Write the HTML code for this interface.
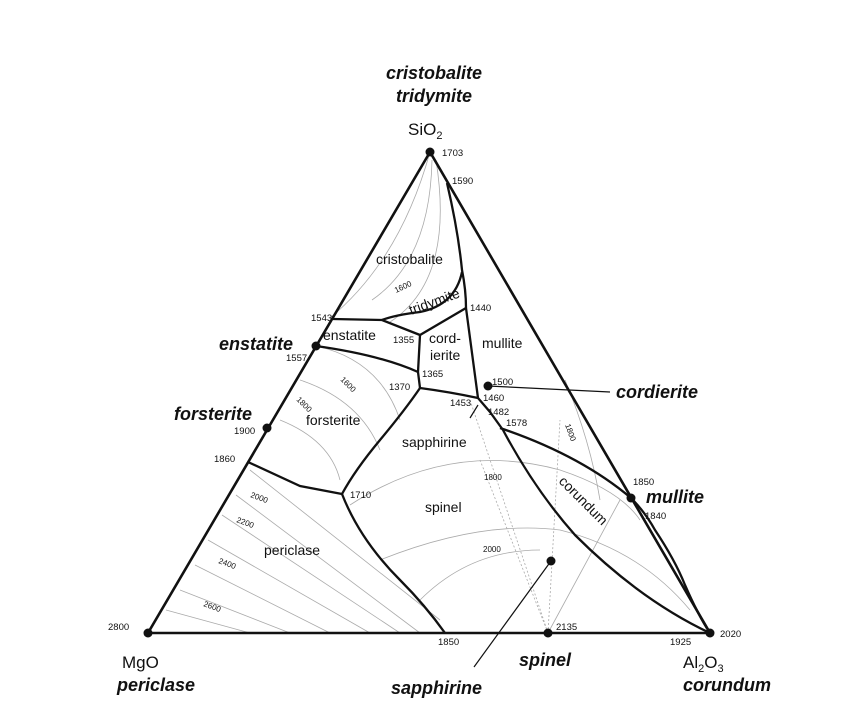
<!DOCTYPE html>
<html><head><meta charset="utf-8"><style>
body{margin:0;background:#fff;}
svg{display:block;font-family:"Liberation Sans",Arial,sans-serif;}
.t{font-size:9.5px;fill:#111}
.l{font-size:14px;fill:#111}
.b{font-size:18px;font-weight:bold;font-style:italic;fill:#111}
.n{font-size:17px;fill:#111}
</style></head><body>
<svg width="849" height="724" viewBox="0 0 849 724">
<rect width="849" height="724" fill="#fff"/>
<!-- contours -->
<g fill="none" stroke="#aaa" stroke-width="0.8">
<path d="M430,152 Q400,260 330,318"/>
<path d="M432,160 Q430,260 372,300"/>
<path d="M436,160 Q455,280 390,322"/>
<path d="M316,346 Q380,360 400,420"/>
<path d="M300,380 Q360,400 380,450"/>
<path d="M280,420 Q330,440 340,480"/>
<path d="M250,470 L440,620"/>
<path d="M236,495 L420,633"/>
<path d="M222,515 L400,633"/>
<path d="M208,540 L370,633"/>
<path d="M195,565 L330,633"/>
<path d="M180,590 L290,633"/>
<path d="M166,610 L250,633"/>
<path d="M350,505 Q450,440 560,470 Q620,490 640,520"/>
<path d="M380,560 Q480,520 560,530 Q640,550 690,610"/>
<path d="M420,600 Q470,550 540,550"/>
<path d="M548,633 L480,460" stroke-dasharray="2,2"/>
<path d="M548,633 L560,420" stroke-dasharray="2,2"/>
<path d="M548,633 L620,500"/>
<path d="M565,380 Q590,440 600,500"/>
<path d="M470,400 L548,633" stroke-dasharray="2,2"/>
</g>
<!-- triangle -->
<path d="M430,152 L148,633 L710,633 Z" fill="none" stroke="#111" stroke-width="2.6"/>
<!-- boundaries -->
<g fill="none" stroke="#111" stroke-width="2.3">
<path d="M447,183 Q458,230 462,270 Q466,290 466,308"/>
<path d="M462,272 Q455,305 420,312 Q395,315 382,320"/>
<path d="M333,319 L382,320 L420,335"/>
<path d="M420,335 L466,308"/>
<path d="M466,308 L478,398 L490,412 L503,430"/>
<path d="M420,335 L418,372 L420,388"/>
<path d="M316,346 Q380,355 418,372"/>
<path d="M420,388 Q450,392 478,398"/>
<path d="M420,388 Q405,410 380,440 Q355,470 342,494"/>
<path d="M248,462 L300,486 L342,494"/>
<path d="M342,494 Q360,540 400,580 Q425,605 445,633"/>
<path d="M500,428 Q580,455 631,498 Q645,512 655,530 Q675,560 685,585 Q698,615 710,633"/>
<path d="M503,430 Q535,490 575,535 Q640,600 710,633"/>
</g>
<g stroke="#111" stroke-width="1.2" fill="none">
<path d="M488,386 L610,392"/>
<path d="M551,561 L474,667"/>
<path d="M478,405 L470,418"/>
</g>
<!-- dots -->
<g fill="#111">
<circle cx="430" cy="152" r="4.5"/><circle cx="316" cy="346" r="4.5"/>
<circle cx="267" cy="428" r="4.5"/><circle cx="488" cy="386" r="4.5"/>
<circle cx="631" cy="498" r="4.5"/><circle cx="548" cy="633" r="4.5"/>
<circle cx="551" cy="561" r="4.5"/><circle cx="710" cy="633" r="4.5"/>
<circle cx="148" cy="633" r="4.5"/>
</g>
<!-- big labels -->
<text class="b" x="434" y="79" text-anchor="middle">cristobalite</text>
<text class="b" x="434" y="102" text-anchor="middle">tridymite</text>
<text class="n" x="408" y="135">SiO<tspan font-size="11" dy="4">2</tspan></text>
<text class="b" x="219" y="350">enstatite</text>
<text class="b" x="174" y="420">forsterite</text>
<text class="b" x="616" y="398">cordierite</text>
<text class="b" x="646" y="503">mullite</text>
<text class="n" x="122" y="668">MgO</text>
<text class="b" x="117" y="691">periclase</text>
<text class="b" x="519" y="666">spinel</text>
<text class="b" x="391" y="694">sapphirine</text>
<text class="n" x="683" y="668">Al<tspan font-size="11" dy="4">2</tspan><tspan dy="-4">O</tspan><tspan font-size="11" dy="4">3</tspan></text>
<text class="b" x="683" y="691">corundum</text>
<!-- field labels -->
<text class="l" x="376" y="264">cristobalite</text>
<text class="l" x="411" y="315" transform="rotate(-20 411 315)" font-size="13">tridymite</text>
<text class="l" x="323" y="340">enstatite</text>
<text class="l" x="429" y="343">cord-</text>
<text class="l" x="430" y="360">ierite</text>
<text class="l" x="482" y="348">mullite</text>
<text class="l" x="306" y="425">forsterite</text>
<text class="l" x="402" y="447">sapphirine</text>
<text class="l" x="425" y="512">spinel</text>
<text class="l" x="264" y="555">periclase</text>
<text class="l" x="558" y="482" transform="rotate(45 558 482)">corundum</text>
<!-- small numbers -->
<g class="t">
<text x="442" y="156">1703</text><text x="452" y="184">1590</text>
<text x="311" y="321">1543</text><text x="286" y="361">1557</text>
<text x="470" y="311">1440</text><text x="393" y="343">1355</text>
<text x="422" y="377">1365</text><text x="389" y="390">1370</text>
<text x="492" y="385">1500</text><text x="483" y="401">1460</text>
<text x="450" y="406">1453</text><text x="488" y="415">1482</text>
<text x="506" y="426">1578</text>
<text x="234" y="434">1900</text><text x="214" y="462">1860</text>
<text x="350" y="498">1710</text>
<text x="633" y="485">1850</text><text x="645" y="519">1840</text>
<text x="108" y="630">2800</text><text x="438" y="645">1850</text>
<text x="556" y="630">2135</text><text x="670" y="645">1925</text>
<text x="720" y="637">2020</text>
<text x="484" y="480" font-size="8">1800</text>
<text x="483" y="552" font-size="8">2000</text>
<text x="250" y="497" font-size="8" transform="rotate(20 250 497)">2000</text>
<text x="236" y="522" font-size="8" transform="rotate(20 236 522)">2200</text>
<text x="218" y="563" font-size="8" transform="rotate(20 218 563)">2400</text>
<text x="203" y="606" font-size="8" transform="rotate(20 203 606)">2600</text>
<text x="340" y="380" font-size="8" transform="rotate(45 340 380)">1600</text>
<text x="296" y="400" font-size="8" transform="rotate(45 296 400)">1800</text>
<text x="396" y="293" font-size="8" transform="rotate(-25 396 293)">1600</text>
<text x="565" y="425" font-size="8" transform="rotate(70 565 425)">1800</text>
</g>
</svg>
</body></html>
